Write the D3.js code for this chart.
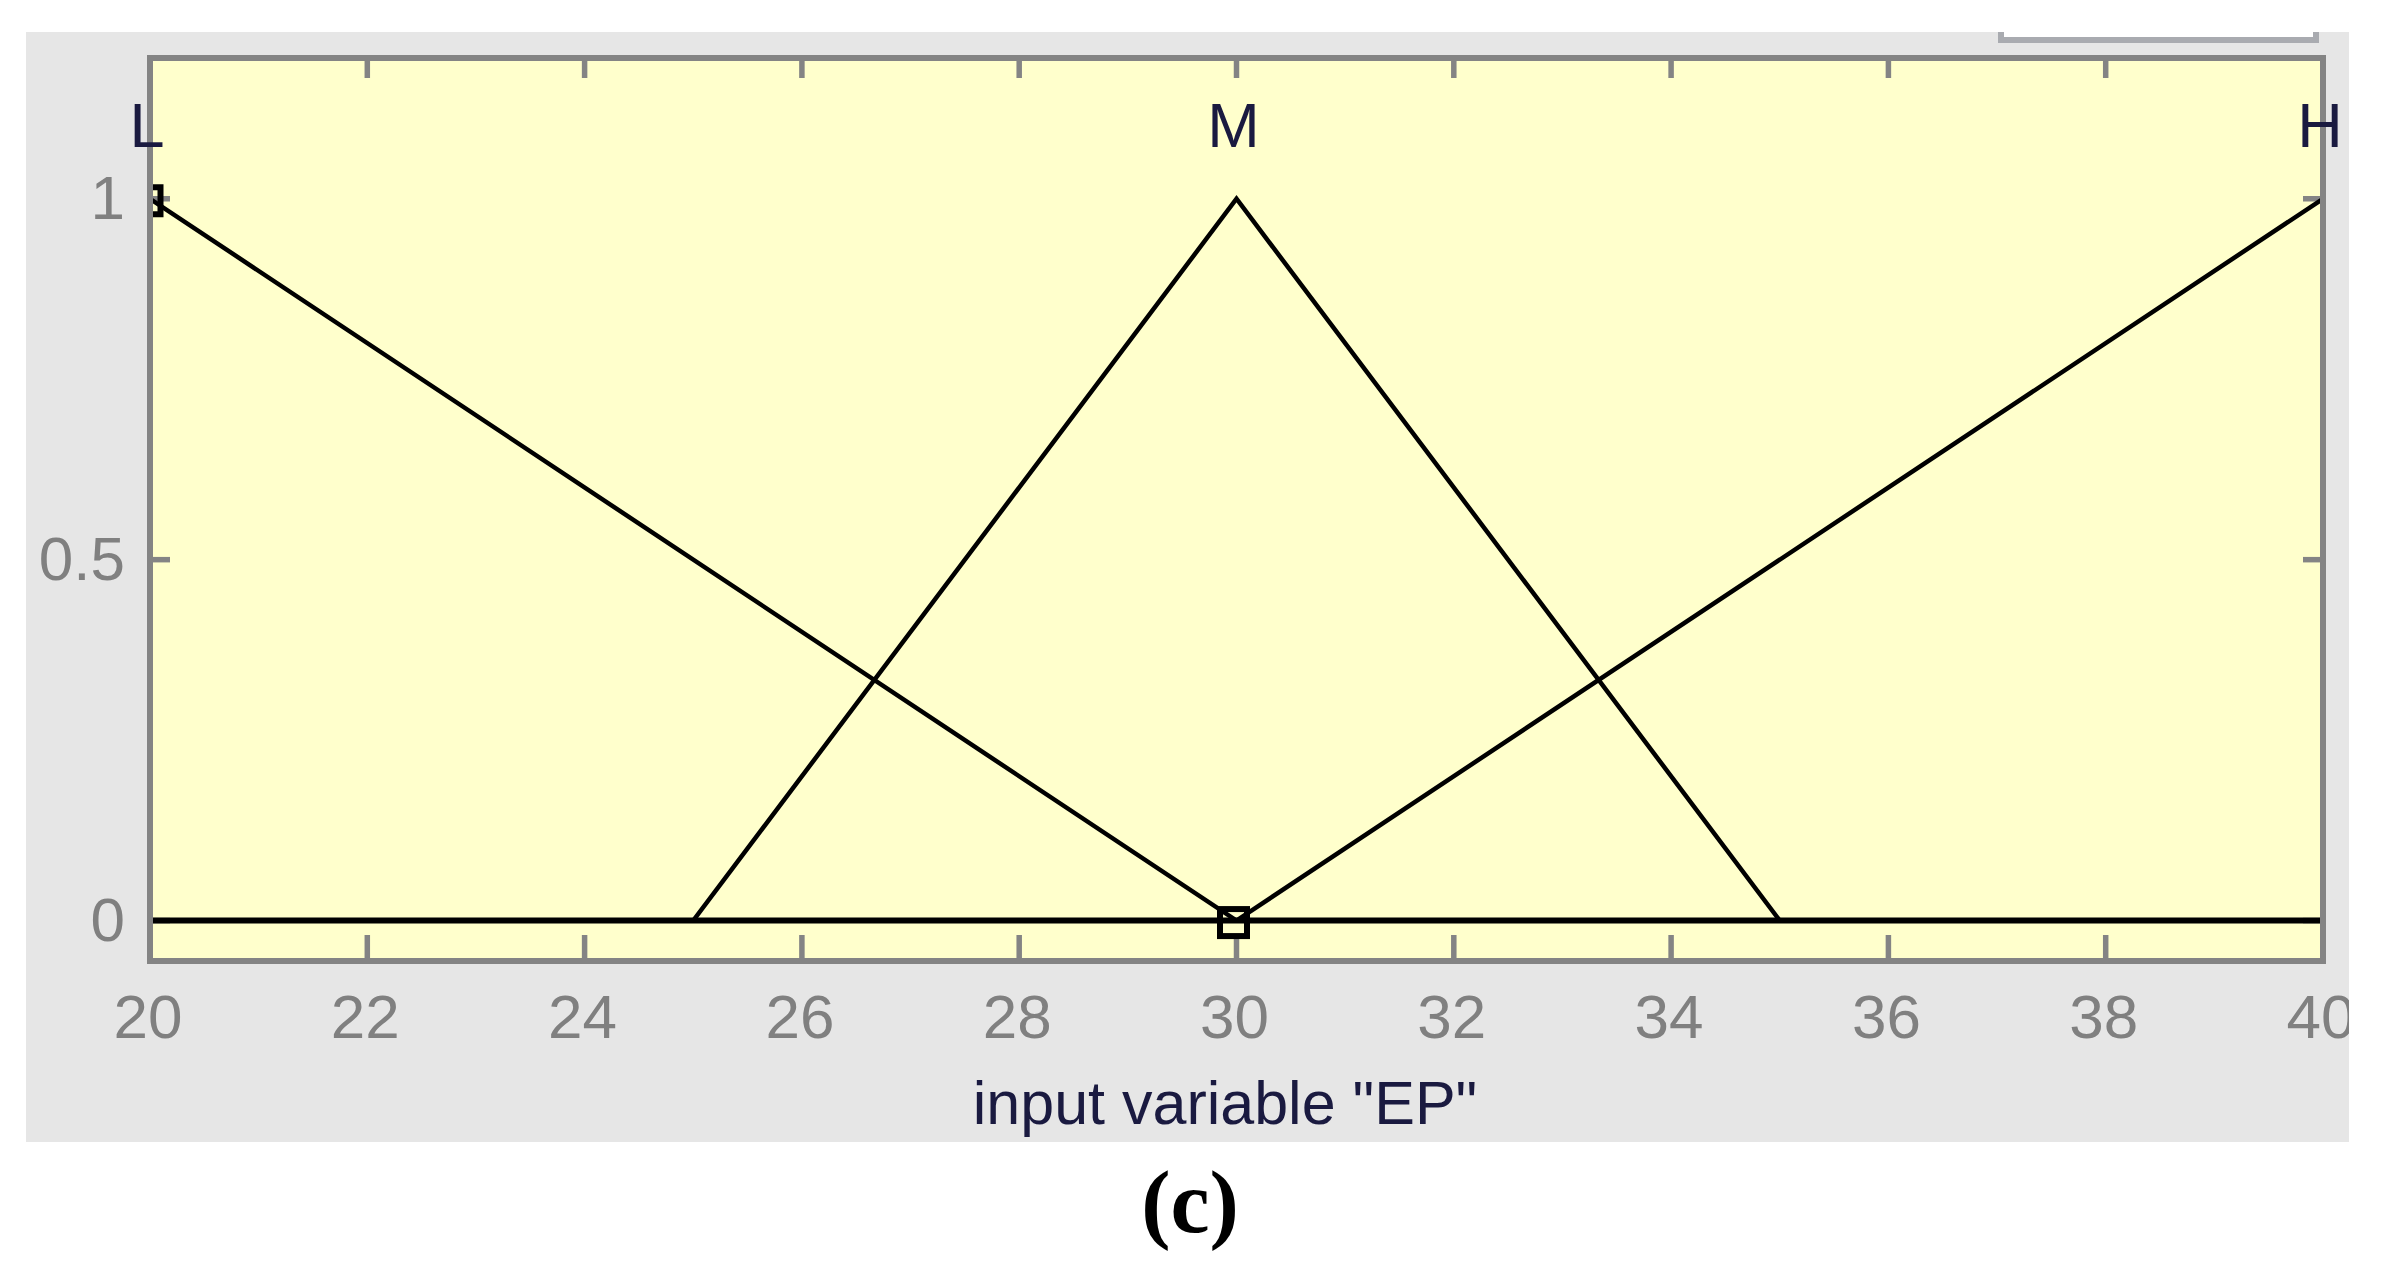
<!DOCTYPE html>
<html>
<head>
<meta charset="utf-8">
<script src="https://cdn.jsdelivr.net/npm/d3@7"></script>
<style>
  html, body { margin: 0; padding: 0; background: #ffffff; }
  svg { display: block; }
</style>
</head>
<body>
<svg id="chart" width="2387" height="1279"></svg>
<script>
// ---- data ----
const xTicks = [20, 22, 24, 26, 28, 30, 32, 34, 36, 38, 40];
const yTicks = [0, 0.5, 1];
const yTickLabels = ["0", "0.5", "1"];
const mfNames = ["L", "M", "H"];
const mfPeaks = [20, 30, 40];
const mfLowX = [20, 30, 40];
const mfLowY = [1, 0, 0];
const mfMedX = [20, 25, 30, 35, 40];
const mfMedY = [0, 0, 1, 0, 0];
const mfHighX = [20, 30, 40];
const mfHighY = [0, 0, 1];
const markerX = [20, 30];
const markerY = [1, 0];
const xLabel = 'input variable "EP"';
const panelLabel = "(c)";

// ---- layout ----
const svg = d3.select("#chart");
const W = 2387, H = 1279;
const fig = { x: 26, y: 32, w: 2323, h: 1110 };
const plot = { left: 150, right: 2323, top: 58, bottom: 961 };

const x = d3.scaleLinear().domain([20, 40]).range([plot.left, plot.right]);
const y = d3.scaleLinear().domain([-0.056, 1.195]).range([plot.bottom, plot.top]);

const defs = svg.append("defs");
defs.append("clipPath").attr("id", "figClip")
  .append("rect").attr("x", fig.x).attr("y", fig.y).attr("width", fig.w).attr("height", fig.h);
defs.append("clipPath").attr("id", "plotClip")
  .append("rect").attr("x", plot.left).attr("y", plot.top)
  .attr("width", plot.right - plot.left).attr("height", plot.bottom - plot.top);

// figure background
svg.append("rect").attr("x", fig.x).attr("y", fig.y).attr("width", fig.w).attr("height", fig.h)
  .attr("fill", "#e6e6e6");

// small white box at top right (partially visible control)
svg.append("rect").attr("x", 2001).attr("y", fig.y).attr("width", 315).attr("height", 8)
  .attr("fill", "#ffffff");
svg.append("path")
  .attr("d", `M2001,${fig.y} V40 H2316 V${fig.y}`)
  .attr("fill", "none").attr("stroke", "#a9abb0").attr("stroke-width", 6);

// plot background
svg.append("rect").attr("x", plot.left).attr("y", plot.top)
  .attr("width", plot.right - plot.left).attr("height", plot.bottom - plot.top)
  .attr("fill", "#ffffcc");

const root = svg.append("g").attr("clip-path", "url(#figClip)");

// ticks (inward)
const tickColor = "#848484";
const tg = root.append("g").attr("stroke", tickColor).attr("stroke-width", 5.5);
xTicks.forEach(t => {
  tg.append("line").attr("x1", x(t)).attr("x2", x(t)).attr("y1", plot.bottom).attr("y2", plot.bottom - 26);
  tg.append("line").attr("x1", x(t)).attr("x2", x(t)).attr("y1", plot.top).attr("y2", plot.top + 20);
});
yTicks.forEach(t => {
  tg.append("line").attr("x1", plot.left).attr("x2", plot.left + 20).attr("y1", y(t)).attr("y2", y(t));
  tg.append("line").attr("x1", plot.right).attr("x2", plot.right - 20).attr("y1", y(t)).attr("y2", y(t));
});

// tick labels
const tickFont = "'Liberation Sans', Arial, sans-serif";
root.append("g").selectAll("text").data(xTicks).join("text")
  .attr("x", d => x(d) - 2).attr("y", 1038)
  .attr("text-anchor", "middle")
  .attr("font-family", tickFont).attr("font-size", 62)
  .attr("fill", "#808080")
  .text(d => d);
root.append("g").selectAll("text").data(yTicks).join("text")
  .attr("x", 125).attr("y", d => y(d) + 20)
  .attr("text-anchor", "end")
  .attr("font-family", tickFont).attr("font-size", 62)
  .attr("fill", "#808080")
  .text((d, i) => yTickLabels[i]);

// membership functions
const pg = root.append("g").attr("clip-path", "url(#plotClip)");
const line = d3.line().x(d => x(d[0])).y(d => y(d[1]));
const series = [
  d3.zip(mfLowX, mfLowY),
  d3.zip(mfMedX, mfMedY),
  d3.zip(mfHighX, mfHighY)
];
pg.selectAll("path.mf").data(series).join("path")
  .attr("class", "mf")
  .attr("d", line)
  .attr("fill", "none").attr("stroke", "#000").attr("stroke-width", 4.5)
  .attr("stroke-linejoin", "miter");
// heavier zero line
pg.append("line").attr("x1", x(20)).attr("x2", x(40)).attr("y1", y(0)).attr("y2", y(0))
  .attr("stroke", "#000").attr("stroke-width", 6);

// vertex markers
const ms = 27;
pg.selectAll("rect.mk").data(d3.zip(markerX, markerY)).join("rect")
  .attr("class", "mk")
  .attr("x", d => x(d[0]) - ms / 2 - 3).attr("y", d => y(d[1]) - ms / 2 + 2)
  .attr("width", ms).attr("height", ms)
  .attr("fill", "none").attr("stroke", "#000").attr("stroke-width", 6);

// frame
root.append("rect").attr("x", plot.left).attr("y", plot.top)
  .attr("width", plot.right - plot.left).attr("height", plot.bottom - plot.top)
  .attr("fill", "none").attr("stroke", tickColor).attr("stroke-width", 6);

// MF names
root.append("g").selectAll("text").data(mfNames).join("text")
  .attr("x", (d, i) => x(mfPeaks[i]) - 3).attr("y", 147)
  .attr("text-anchor", "middle")
  .attr("font-family", tickFont).attr("font-size", 63)
  .attr("fill", "#1a1a40")
  .text(d => d);

// axis label
root.append("text")
  .attr("x", 1225).attr("y", 1124)
  .attr("text-anchor", "middle")
  .attr("font-family", tickFont).attr("font-size", 61)
  .attr("fill", "#1a1a40")
  .text(xLabel);

// panel label
svg.append("text")
  .attr("x", 1190).attr("y", 1232)
  .attr("text-anchor", "middle")
  .attr("font-family", "'Liberation Serif', 'Times New Roman', serif")
  .attr("font-weight", "bold").attr("font-size", 88)
  .attr("fill", "#000")
  .text(panelLabel);
</script>
</body>
</html>
